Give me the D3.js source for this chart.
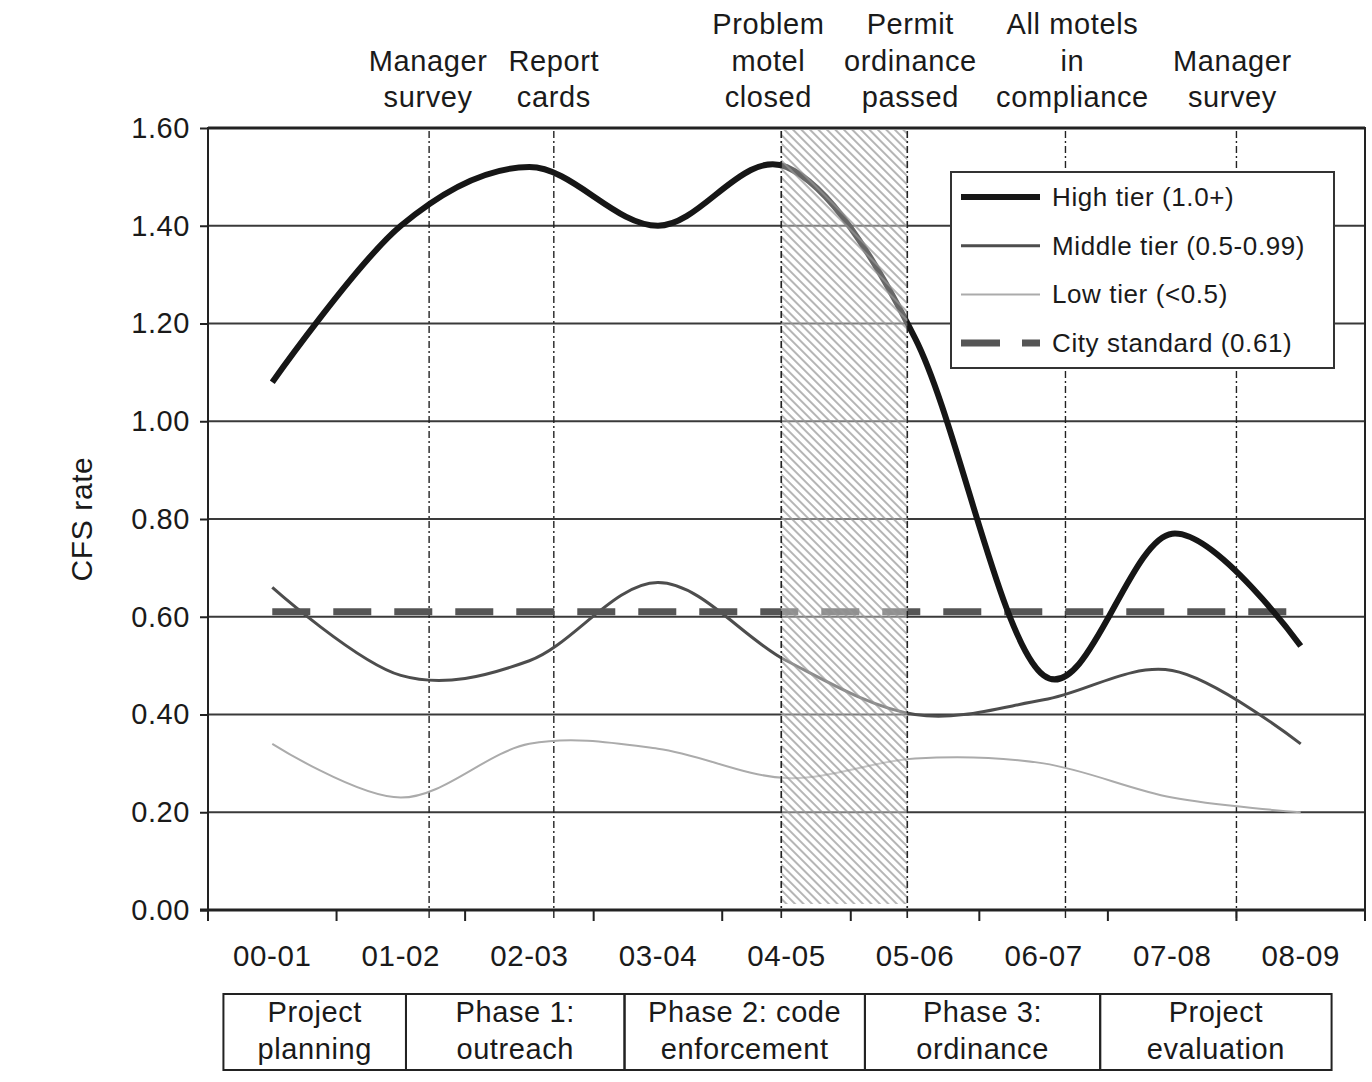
<!DOCTYPE html>
<html>
<head>
<meta charset="utf-8">
<script src="https://cdn.jsdelivr.net/npm/d3@7"></script>
<style>
  body { margin: 0; background: #fff; }
  text { font-family: "Liberation Sans", Arial, Helvetica, sans-serif; fill: #1a1a1a; letter-spacing: 0.6px; }
</style>
</head>
<body>
<svg id="chart"></svg>
<script>
// data
var years = ["00-01", "01-02", "02-03", "03-04", "04-05", "05-06", "06-07", "07-08", "08-09"];
var highTier   = [1.08, 1.40, 1.52, 1.40, 1.52, 1.17, 0.48, 0.77, 0.54];
var middleTier = [0.66, 0.48, 0.51, 0.67, 0.51, 0.40, 0.43, 0.49, 0.34];
var lowTier    = [0.34, 0.23, 0.34, 0.33, 0.27, 0.31, 0.30, 0.23, 0.20];
var cityStandard = 0.61;
var yTicks = [0, 0.2, 0.4, 0.6, 0.8, 1.0, 1.2, 1.4, 1.6];
var seriesNames = ["High tier (1.0+)", "Middle tier (0.5-0.99)", "Low tier (<0.5)", "City standard (0.61)"];

// events, in year units (0 = start of 00-01)
var eventTimes = [1.72, 2.69, 4.46, 5.44, 6.67, 8.0];
var eventLabels = [
  ["Manager", "survey"],
  ["Report", "cards"],
  ["Problem", "motel", "closed"],
  ["Permit", "ordinance", "passed"],
  ["All motels", "in", "compliance"],
  ["Manager", "survey"]
];
var hatchSpan = [4.46, 5.44];   // problem motel closed -> ordinance passed

var phaseBreaks = [0.12, 1.54, 3.24, 5.11, 6.94, 8.74];
var phaseLabels = [
  ["Project", "planning"],
  ["Phase 1:", "outreach"],
  ["Phase 2: code", "enforcement"],
  ["Phase 3:", "ordinance"],
  ["Project", "evaluation"]
];

var W = 1372, H = 1082;
var plotL = 208, plotR = 1365, plotT = 128, plotB = 910;
var labelNudge = [-1, 0, -13, 3, 7, -4];

var svg = d3.select("#chart").attr("width", W).attr("height", H);

var x = d3.scaleBand().domain(years).range([plotL, plotR]).padding(0);
var t = d3.scaleLinear().domain([0, years.length]).range([plotL, plotR]);
var y = d3.scaleLinear().domain([0, 1.6]).range([plotB, plotT]);
var cx = function(d, i) { return x(years[i]) + x.bandwidth() / 2; };

// hatch pattern
var defs = svg.append("defs");
defs.append("pattern")
    .attr("id", "hatch")
    .attr("patternUnits", "userSpaceOnUse")
    .attr("width", 6).attr("height", 6)
    .attr("patternTransform", "rotate(-45)")
  .append("line")
    .attr("x1", 1).attr("y1", 0).attr("x2", 1).attr("y2", 6)
    .attr("stroke", "#969696").attr("stroke-width", 1.4);

// horizontal gridlines
svg.append("g").selectAll("line")
    .data(yTicks.filter(function(d) { return d > 0 && d < 1.6; }))
    .enter().append("line")
    .attr("x1", plotL).attr("x2", plotR)
    .attr("y1", function(d) { return y(d); })
    .attr("y2", function(d) { return y(d); })
    .attr("stroke", "#3a3a3a").attr("stroke-width", 2);

// event lines
svg.append("g").selectAll("line")
    .data(eventTimes)
    .enter().append("line")
    .attr("x1", function(d) { return t(d); })
    .attr("x2", function(d) { return t(d); })
    .attr("y1", y(1.6) + 3).attr("y2", y(0) + 10)
    .attr("stroke", "#222").attr("stroke-width", 1.4)
    .attr("stroke-dasharray", "7,3,2,3");

// series
var line = d3.line()
    .x(cx)
    .y(function(d) { return y(d); })
    .curve(d3.curveCardinal.tension(0));

svg.append("path").datum(lowTier)
    .attr("fill", "none").attr("stroke", "#ababab").attr("stroke-width", 2)
    .attr("d", line);
svg.append("path").datum(middleTier)
    .attr("fill", "none").attr("stroke", "#4d4d4d").attr("stroke-width", 3)
    .attr("d", line);
svg.append("line")
    .attr("x1", cx(null, 0)).attr("x2", cx(null, years.length - 1))
    .attr("y1", y(cityStandard)).attr("y2", y(cityStandard))
    .attr("stroke", "#555").attr("stroke-width", 7)
    .attr("stroke-dasharray", "38,23");
svg.append("path").datum(highTier)
    .attr("fill", "none").attr("stroke", "#161616").attr("stroke-width", 6)
    .attr("stroke-linejoin", "round")
    .attr("d", line);

// hatched span on top
var hx = t(hatchSpan[0]), hw = t(hatchSpan[1]) - t(hatchSpan[0]);
svg.append("rect")
    .attr("x", hx).attr("y", y(1.6) + 2).attr("width", hw).attr("height", y(0) - y(1.6) - 8)
    .attr("fill", "#fff").attr("fill-opacity", 0.35);
svg.append("rect")
    .attr("x", hx).attr("y", y(1.6) + 2).attr("width", hw).attr("height", y(0) - y(1.6) - 8)
    .attr("fill", "url(#hatch)");
// redraw the event lines that bound the span
svg.append("g").selectAll("line")
    .data(hatchSpan)
    .enter().append("line")
    .attr("x1", function(d) { return t(d); })
    .attr("x2", function(d) { return t(d); })
    .attr("y1", y(1.6) + 3).attr("y2", y(0) + 10)
    .attr("stroke", "#222").attr("stroke-width", 1.4)
    .attr("stroke-dasharray", "7,3,2,3");

// frame
svg.append("line").attr("x1", plotL).attr("x2", plotR).attr("y1", y(1.6)).attr("y2", y(1.6))
    .attr("stroke", "#222").attr("stroke-width", 3);
svg.append("line").attr("x1", plotL).attr("x2", plotL).attr("y1", y(1.6) - 1).attr("y2", y(0))
    .attr("stroke", "#222").attr("stroke-width", 2);
svg.append("line").attr("x1", plotR).attr("x2", plotR).attr("y1", y(1.6) - 1).attr("y2", y(0))
    .attr("stroke", "#222").attr("stroke-width", 2);
svg.append("line").attr("x1", plotL - 8).attr("x2", plotR + 1).attr("y1", y(0)).attr("y2", y(0))
    .attr("stroke", "#222").attr("stroke-width", 3);

// y axis
var yAxis = svg.append("g")
    .attr("transform", "translate(" + plotL + ",0)")
    .call(d3.axisLeft(y).tickValues(yTicks).tickSize(8).tickPadding(10).tickFormat(d3.format(".2f")));
yAxis.select(".domain").remove();
yAxis.selectAll(".tick line").attr("stroke", "#222").attr("stroke-width", 2);
yAxis.selectAll("text").style("font-size", "29px").attr("fill", "#1a1a1a");

// x axis: labels centred in bands, ticks at band edges
var xAxis = svg.append("g")
    .attr("transform", "translate(0," + plotB + ")")
    .call(d3.axisBottom(x).tickSize(0).tickPadding(35));
xAxis.select(".domain").remove();
xAxis.selectAll("text").style("font-size", "29.5px").attr("fill", "#1a1a1a");
svg.append("g").selectAll("line")
    .data(d3.range(years.length + 1))
    .enter().append("line")
    .attr("x1", function(d) { return t(d); })
    .attr("x2", function(d) { return t(d); })
    .attr("y1", plotB).attr("y2", plotB + 11)
    .attr("stroke", "#222").attr("stroke-width", 2);

// y title
svg.append("text")
    .attr("transform", "translate(92," + (plotT + plotB) / 2 + ") rotate(-90)")
    .attr("text-anchor", "middle")
    .style("font-size", "30px")
    .text("CFS rate");

// event labels above the plot, bottom aligned
eventLabels.forEach(function(lines, i) {
  var txt = svg.append("text")
      .attr("text-anchor", "middle")
      .style("font-size", "29px");
  lines.forEach(function(s, j) {
    txt.append("tspan")
        .attr("x", t(eventTimes[i]) + labelNudge[i])
        .attr("y", 107 - (lines.length - 1 - j) * 36.5)
        .text(s);
  });
});

// legend
var legendStyles = [
  { color: "#161616", width: 6, dash: null },
  { color: "#4d4d4d", width: 3, dash: null },
  { color: "#ababab", width: 2, dash: null },
  { color: "#555", width: 7, dash: "39,22" }
];
var legend = svg.append("g").attr("transform", "translate(951,172)");
legend.append("rect")
    .attr("width", 383).attr("height", 196)
    .attr("fill", "#fff").attr("stroke", "#333").attr("stroke-width", 2);
var item = legend.selectAll("g.item")
    .data(seriesNames)
    .enter().append("g")
    .attr("class", "item")
    .attr("transform", function(d, i) { return "translate(0," + (25 + i * 48.7) + ")"; });
item.append("line")
    .attr("x1", 10).attr("x2", 89).attr("y1", 0).attr("y2", 0)
    .attr("stroke", function(d, i) { return legendStyles[i].color; })
    .attr("stroke-width", function(d, i) { return legendStyles[i].width; })
    .attr("stroke-dasharray", function(d, i) { return legendStyles[i].dash; });
item.append("text")
    .attr("x", 101).attr("y", 9)
    .style("font-size", "26px")
    .text(function(d) { return d; });

// phase boxes under the axis
var boxTop = 994, boxBottom = 1070;
var phases = svg.append("g");
phases.selectAll("rect")
    .data(phaseLabels)
    .enter().append("rect")
    .attr("x", function(d, i) { return t(phaseBreaks[i]); })
    .attr("y", boxTop)
    .attr("width", function(d, i) { return t(phaseBreaks[i + 1]) - t(phaseBreaks[i]); })
    .attr("height", boxBottom - boxTop)
    .attr("fill", "none").attr("stroke", "#222").attr("stroke-width", 2);
phaseLabels.forEach(function(lines, i) {
  var mid = (t(phaseBreaks[i]) + t(phaseBreaks[i + 1])) / 2;
  var txt = phases.append("text").attr("text-anchor", "middle").style("font-size", "29px");
  lines.forEach(function(s, j) {
    txt.append("tspan").attr("x", mid).attr("y", 1021.7 + j * 37.6).text(s);
  });
});
</script>
</body>
</html>
